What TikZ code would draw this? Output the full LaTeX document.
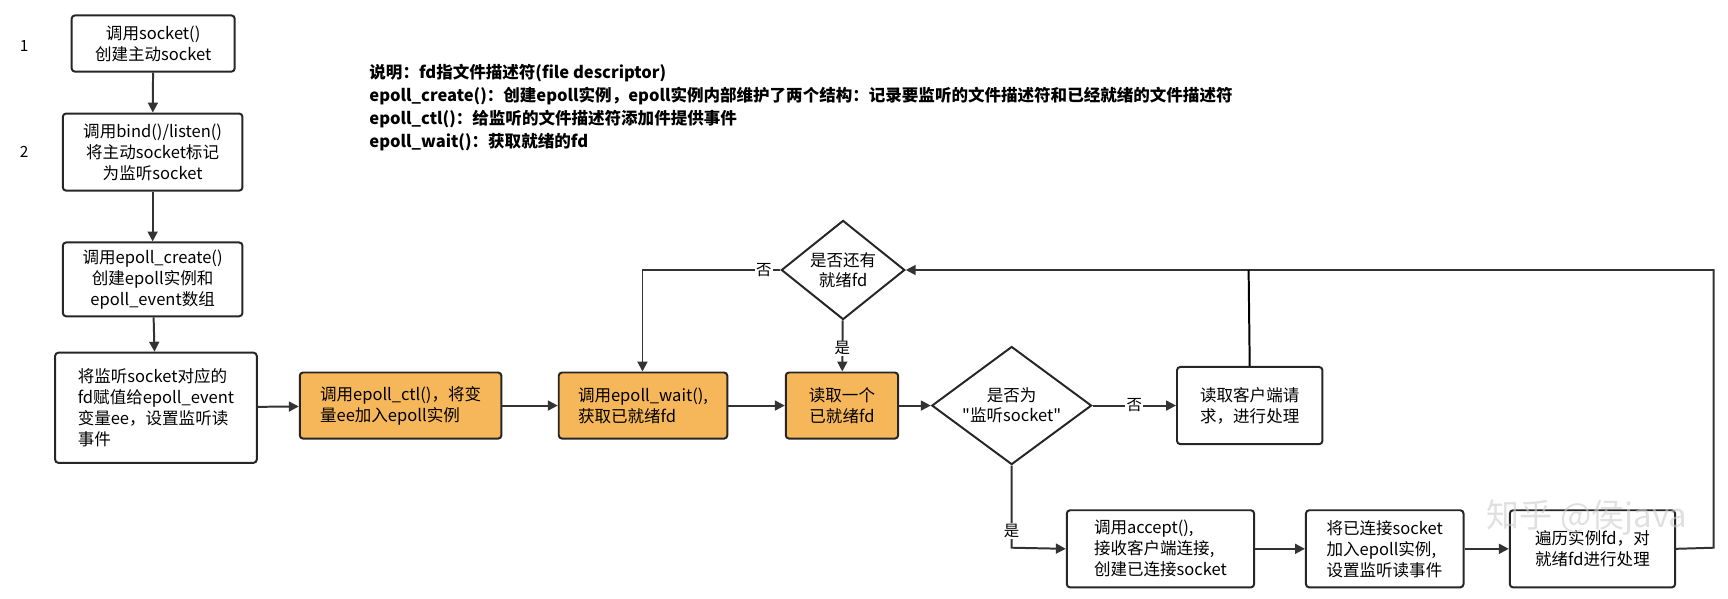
\documentclass[tikz,border=0pt]{standalone}
\usepackage{fontspec}
\setmainfont{Noto Sans CJK SC}
\usetikzlibrary{shapes.geometric,arrows.meta}
\definecolor{org}{HTML}{F6B65A}
\begin{document}
\begin{tikzpicture}[x=1pt,y=-1pt,line width=1.8pt,
  box/.style={draw=black!85,rounded corners=3pt,align=center,font=\fontsize{15}{19}\selectfont,inner sep=0pt},
  obox/.style={box,fill=org,align=left},
  dia/.style={draw=black!85,diamond,aspect=1.25,align=center,font=\fontsize{15}{18}\selectfont,inner sep=1pt},
  arr/.style={-{Triangle[length=9pt,width=9pt]},draw=black!80},
  lab/.style={font=\fontsize{14}{17}\selectfont,fill=white,inner sep=1pt}]
\useasboundingbox (0,0) rectangle (1568,543);
\node[font=\fontsize{14}{17}\selectfont] (n1) at (22,42) {1};
\node[font=\fontsize{14}{17}\selectfont] (n2) at (22,138) {2};
\node[box,minimum width=148pt,minimum height=51pt] (b1) at (139,39.5) {调用socket()\\创建主动socket};
\node[box,minimum width=163pt,minimum height=70pt] (b2) at (138.5,138) {调用bind()/listen()\\将主动socket标记\\为监听socket};
\node[box,minimum width=163pt,minimum height=67pt] (b3) at (138.5,253.5) {调用epoll\_create()\\创建epoll实例和\\epoll\_event数组};
\node[box,minimum width=183pt,minimum height=100pt,align=left] (b4) at (141.5,370) {将监听socket对应的\\fd赋值给epoll\_event\\变量ee，设置监听读\\事件};
\node[anchor=north west,align=left,font=\bfseries\fontsize{15}{21}\selectfont] (note) at (331,54) {说明：fd指文件描述符(file descriptor)\\epoll\_create()：创建epoll实例，epoll实例内部维护了两个结构：记录要监听的文件描述符和已经就绪的文件描述符\\epoll\_ctl()：给监听的文件描述符添加件提供事件\\epoll\_wait()：获取就绪的fd};
\node[obox,minimum width=183pt,minimum height=60pt] (o1) at (363.5,368) {调用epoll\_ctl()，将变\\量ee加入epoll实例};
\node[obox,minimum width=153pt,minimum height=60pt] (o2) at (583.5,368) {调用epoll\_wait(),\\获取已就绪fd};
\node[obox,minimum width=102pt,minimum height=60pt,align=center] (o3) at (764,368) {读取一个\\已就绪fd};
\node[dia,minimum width=112pt,minimum height=90pt] (d1) at (765,245) {是否还有\\就绪fd};
\node[dia,minimum width=145pt,minimum height=85pt] (d2) at (918,368) {是否为\\\textquotedbl 监听socket\textquotedbl};
\node[box,minimum width=132pt,minimum height=70pt,align=left] (r1) at (1134,368) {读取客户端请\\求，进行处理};
\node[box,minimum width=170pt,minimum height=70pt,align=left] (a1) at (1053,498) {调用accept(),\\接收客户端连接,\\创建已连接socket};
\node[box,minimum width=143pt,minimum height=70pt,align=left] (a2) at (1256.5,498) {将已连接socket\\加入epoll实例,\\设置监听读事件};
\node[box,minimum width=150pt,minimum height=70pt,align=left] (a3) at (1445,498) {遍历实例fd，对\\就绪fd进行处理};
\coordinate (c1) at (583,245);
\coordinate (c2) at (918,497);
\coordinate (c3) at (1555,497);
\coordinate (c4) at (1555,245);
\coordinate (c5) at (1133,245);
\draw[arr] (b1) -- (b2);
\draw[arr] (b2) -- (b3);
\draw[arr] (b3) -- (b4);
\draw[arr] (b4) -- (o1);
\draw[arr] (o1) -- (o2);
\draw[arr] (o2) -- (o3);
\draw[arr] (o3) -- (d2);
\draw[arr] (d1) -- node[lab,pos=0.55]{是} (o3);
\draw[arr] (d1.west) -- node[lab,pos=0.12]{否} (c1) -- (o2.north -| c1);
\draw[arr] (d2) -- node[lab]{否} (r1);
\draw[arr] (d2.south) -- node[lab,pos=0.8]{是} (c2) -- (a1.west);
\draw[arr] (a1) -- (a2);
\draw[arr] (a2) -- (a3);
\draw[arr] (a3.east) -- (c3) -- (c4) -- (d1.east);
\draw (r1.north) -- (c5);
\node[text=gray!40,font=\fontsize{30}{30}\selectfont,opacity=0.6] (wm) at (1440,470) {知乎 @侯java};
\end{tikzpicture}
\end{document}
